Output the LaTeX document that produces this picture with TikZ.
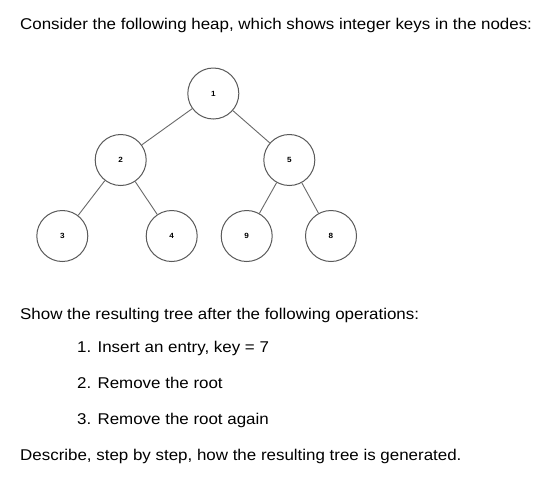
\documentclass[tikz,border=0pt]{standalone}
\usepackage{fontspec}
\setmainfont{Liberation Sans}[FakeStretch=1.085]
\usepackage{tikz}
\definecolor{ring}{RGB}{90, 90, 90}
\definecolor{edge}{RGB}{105, 105, 105}

\tikzset{
  heapnode/.style={circle, draw=ring, line width=1pt, minimum size=51pt, inner sep=0pt,
    font=\fontsize{7.5}{8}\selectfont\bfseries},
  prompt/.style={anchor=base west, inner sep=0pt, font=\fontsize{15.6}{18}\selectfont}
}

\begin{document}
\begin{tikzpicture}[x=1pt, y=-1pt]
  \useasboundingbox (0, 0) rectangle (559, 477);
  \fill [white] (0, 0) rectangle (559, 477);

  \node [prompt] (intro) at (20, 29) {Consider the following heap, which shows integer keys in the nodes:};

  \node [heapnode] (n1) at (213.3, 93.5) {1};
  \node [heapnode] (n2) at (120.7, 160) {2};
  \node [heapnode] (n5) at (289.3, 160) {5};
  \node [heapnode] (n3) at (62.3, 236) {3};
  \node [heapnode] (n4) at (171.7, 236) {4};
  \node [heapnode] (n9) at (246.7, 236) {9};
  \node [heapnode] (n8) at (331, 236) {8};

  \draw [edge, line width=0.9pt] (n1) -- (n2);
  \draw [edge, line width=0.9pt] (n1) -- (n5);
  \draw [edge, line width=0.9pt] (n2) -- (n3);
  \draw [edge, line width=0.9pt] (n2) -- (n4);
  \draw [edge, line width=0.9pt] (n5) -- (n9);
  \draw [edge, line width=0.9pt] (n5) -- (n8);

  \node [prompt] (show) at (20, 319) {Show the resulting tree after the following operations:};
  \node [prompt] (op1) at (77, 352.5) {1. Insert an entry, key = 7};
  \node [prompt] (op2) at (77, 388.5) {2. Remove the root};
  \node [prompt] (op3) at (77, 424.5) {3. Remove the root again};
  \node [prompt] (ask) at (20, 460.5) {Describe, step by step, how the resulting tree is generated.};

\end{tikzpicture}
\end{document}
